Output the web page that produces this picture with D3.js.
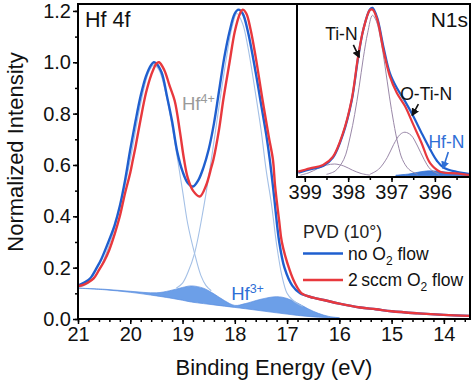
<!DOCTYPE html>
<html>
<head>
<meta charset="utf-8">
<script src="https://cdn.jsdelivr.net/npm/d3@7"></script>
<style>
  body { margin: 0; background: #fff; }
  svg { font-family: "Liberation Sans", Arial, sans-serif; }
</style>
</head>
<body>
<svg></svg>
<script>
// Hf 4f, no O2 flow (blue)
var blueEnergy = [21.0, 20.9, 20.8, 20.74, 20.64, 20.55, 20.4, 20.3, 20.2, 20.1, 20.0, 19.9, 19.8, 19.7, 19.6, 19.55, 19.5, 19.4, 19.3, 19.2, 19.1, 19.0, 18.9, 18.8, 18.7, 18.6, 18.5, 18.4, 18.3, 18.2, 18.1, 18.0, 17.93, 17.85, 17.75, 17.6, 17.5, 17.4, 17.33, 17.25, 17.15, 17.05, 16.9, 16.75, 16.5, 16.3, 16.0, 15.6, 15.3, 15.0, 14.5, 14.0, 13.5];
var blueIntensity = [0.13, 0.14, 0.152, 0.165, 0.2, 0.235, 0.31, 0.365, 0.44, 0.54, 0.66, 0.77, 0.87, 0.945, 0.99, 1.0, 0.995, 0.96, 0.87, 0.77, 0.65, 0.575, 0.53, 0.516, 0.54, 0.59, 0.66, 0.76, 0.89, 1.02, 1.12, 1.19, 1.205, 1.19, 1.12, 0.96, 0.84, 0.72, 0.62, 0.48, 0.3, 0.2, 0.13, 0.1, 0.083, 0.074, 0.06, 0.045, 0.038, 0.03, 0.022, 0.016, 0.012];

// Hf 4f, 2 sccm O2 flow (red)
var redEnergy = [21.0, 20.9, 20.8, 20.7, 20.6, 20.5, 20.4, 20.3, 20.2, 20.1, 20.0, 19.95, 19.9, 19.8, 19.7, 19.6, 19.5, 19.45, 19.35, 19.25, 19.15, 19.05, 18.97, 18.9, 18.8, 18.67, 18.55, 18.45, 18.41, 18.3, 18.22, 18.1, 18.0, 17.9, 17.85, 17.78, 17.7, 17.6, 17.47, 17.35, 17.27, 17.23, 17.15, 17.1, 16.95, 16.85, 16.72, 16.5, 16.3, 16.0, 15.6, 15.3, 15.0, 14.5, 14.0, 13.5];
var redIntensity = [0.128, 0.133, 0.143, 0.158, 0.19, 0.225, 0.27, 0.33, 0.4, 0.49, 0.57, 0.62, 0.67, 0.78, 0.88, 0.95, 0.995, 1.0, 0.97, 0.91, 0.85, 0.73, 0.62, 0.55, 0.5, 0.477, 0.52, 0.59, 0.62, 0.74, 0.854, 1.0, 1.12, 1.19, 1.205, 1.19, 1.13, 1.02, 0.854, 0.71, 0.62, 0.52, 0.38, 0.3, 0.19, 0.14, 0.1, 0.083, 0.074, 0.06, 0.045, 0.038, 0.03, 0.022, 0.016, 0.012];

// Hf4+ fitted components
var hf4aEnergy = [21.0, 20.8, 20.6, 20.4, 20.2, 20.0, 19.8, 19.65, 19.55, 19.45, 19.3, 19.15, 19.0, 18.9, 18.77, 18.65, 18.55, 18.45];
var hf4aIntensity = [0.122, 0.14, 0.19, 0.29, 0.43, 0.62, 0.84, 0.96, 0.99, 0.97, 0.86, 0.69, 0.5, 0.37, 0.256, 0.17, 0.13, 0.11];
var hf4bEnergy = [19.12, 19.0, 18.9, 18.77, 18.6, 18.45, 18.3, 18.15, 18.05, 17.96, 17.85, 17.75, 17.62, 17.5, 17.4, 17.3, 17.2, 17.1, 17.0, 16.9, 16.8, 16.7];
var hf4bIntensity = [0.12, 0.14, 0.18, 0.256, 0.43, 0.62, 0.83, 1.03, 1.14, 1.19, 1.15, 1.06, 0.9, 0.74, 0.58, 0.45, 0.29, 0.17, 0.1, 0.075, 0.06, 0.05];

// Hf3+ component (filled between background and component)
var hf3Energy = [21.0, 20.5, 20.0, 19.5, 19.25, 19.0, 18.83, 18.6, 18.4, 18.2, 18.0, 17.8, 17.5, 17.2, 17.0, 16.8, 16.6, 16.4, 16.2, 16.0];
var hf3Upper = [0.12, 0.116, 0.108, 0.102, 0.11, 0.123, 0.129, 0.12, 0.098, 0.072, 0.053, 0.06, 0.077, 0.087, 0.08, 0.062, 0.04, 0.022, 0.01, 0.005];
var hf3Lower = [0.12, 0.114, 0.104, 0.09, 0.082, 0.073, 0.066, 0.06, 0.055, 0.05, 0.045, 0.04, 0.032, 0.024, 0.019, 0.014, 0.01, 0.007, 0.005, 0.004];

// N 1s inset
var n1sBlueEnergy = [399.15, 398.88, 398.58, 398.35, 398.12, 397.92, 397.77, 397.65, 397.5, 397.44, 397.33, 397.19, 397.04, 396.88, 396.69, 396.5, 396.31, 396.11, 395.95, 395.8, 395.5, 395.19];
var n1sBlueIntensity = [0.02, 0.04, 0.06, 0.11, 0.25, 0.45, 0.71, 0.88, 1.0, 1.01, 0.95, 0.78, 0.62, 0.53, 0.45, 0.36, 0.26, 0.16, 0.09, 0.05, 0.025, 0.012];
var n1sRedEnergy = [399.15, 398.88, 398.58, 398.35, 398.12, 397.92, 397.77, 397.65, 397.5, 397.44, 397.33, 397.19, 397.04, 396.88, 396.69, 396.5, 396.31, 396.11, 395.88, 395.5, 395.19];
var n1sRedIntensity = [0.026, 0.046, 0.066, 0.116, 0.257, 0.458, 0.719, 0.88, 0.996, 1.0, 0.94, 0.76, 0.6, 0.5, 0.42, 0.31, 0.2, 0.077, 0.026, 0.016, 0.006];
var tinEnergy = [398.5, 398.3, 398.1, 397.95, 397.85, 397.75, 397.65, 397.55, 397.44, 397.35, 397.25, 397.15, 397.05, 396.95, 396.85, 396.75, 396.6, 396.4];
var tinIntensity = [0.01, 0.03, 0.1, 0.24, 0.37, 0.53, 0.71, 0.86, 0.965, 0.93, 0.82, 0.66, 0.48, 0.32, 0.19, 0.1, 0.04, 0.01];
var otinEnergy = [397.5, 397.3, 397.1, 396.95, 396.8, 396.69, 396.55, 396.4, 396.25, 396.1, 395.9];
var otinIntensity = [0.01, 0.04, 0.11, 0.19, 0.25, 0.263, 0.245, 0.18, 0.1, 0.04, 0.01];
var n3Energy = [399.1, 398.9, 398.7, 398.5, 398.31, 398.1, 397.9, 397.7, 397.5];
var n3Intensity = [0.005, 0.02, 0.045, 0.065, 0.072, 0.06, 0.035, 0.015, 0.005];
var hfnEnergy = [396.9, 396.6, 396.4, 396.2, 396.0, 395.8, 395.6, 395.4, 395.19];
var hfnIntensity = [0.005, 0.012, 0.022, 0.03, 0.03, 0.025, 0.02, 0.014, 0.01];

// ticks
var xTicksMain = [21, 20, 19, 18, 17, 16, 15, 14];
var yTicksMain = [0, 0.2, 0.4, 0.6, 0.8, 1.0, 1.2];
var xTicksInset = [399, 398, 397, 396];

var svgWidth = 474, svgHeight = 387;
var blue = "#1f5fcf", red = "#e8383d";

var svg = d3.select("svg")
    .attr("width", svgWidth)
    .attr("height", svgHeight);

var x = d3.scaleLinear().domain([21, 13.5]).range([78, 470]);
var y = d3.scaleLinear().domain([0, 1.227]).range([319, 4]);

var xIn = d3.scaleLinear().domain([399.18, 395.19]).range([297, 470]);
var yIn = d3.scaleLinear().domain([0, 1]).range([176, 9.5]);

var defs = svg.append("defs");
defs.append("clipPath").attr("id", "clipMain")
  .append("rect").attr("x", 78).attr("y", 4).attr("width", 392).attr("height", 315);
defs.append("clipPath").attr("id", "clipIn")
  .append("rect").attr("x", 297).attr("y", 4).attr("width", 173).attr("height", 173);
[["arrowBlack", "#111"], ["arrowBlue", "#2f6fd6"]].forEach(function (m) {
  defs.append("marker").attr("id", m[0])
    .attr("viewBox", "0 0 10 10").attr("refX", 8).attr("refY", 5)
    .attr("markerWidth", 5).attr("markerHeight", 5).attr("orient", "auto")
    .append("path").attr("d", "M0,0 L10,5 L0,10 z").attr("fill", m[1]);
});

function zip(xs, ys) {
  return xs.map(function (d, i) { return [d, ys[i]]; });
}

var line = d3.line()
  .x(function (d) { return x(d[0]); })
  .y(function (d) { return y(d[1]); })
  .curve(d3.curveCatmullRom.alpha(0.5));

var lineIn = d3.line()
  .x(function (d) { return xIn(d[0]); })
  .y(function (d) { return yIn(d[1]); })
  .curve(d3.curveCatmullRom.alpha(0.5));

// ---- main plot ----
var main = svg.append("g").attr("clip-path", "url(#clipMain)");

var hf3 = hf3Energy.map(function (d, i) { return [d, hf3Lower[i], hf3Upper[i]]; });
main.append("path")
  .datum(hf3)
  .attr("d", d3.area()
    .x(function (d) { return x(d[0]); })
    .y0(function (d) { return y(d[1]); })
    .y1(function (d) { return y(d[2]); })
    .curve(d3.curveCatmullRom.alpha(0.5)))
  .style("fill", "#6c9fe8")
  .style("stroke", "#5a8ee0")
  .style("stroke-width", 0.7);

[zip(hf4aEnergy, hf4aIntensity), zip(hf4bEnergy, hf4bIntensity)].forEach(function (c) {
  main.append("path").datum(c).attr("d", line)
    .style("fill", "none").style("stroke", "#a4c0e6").style("stroke-width", 1.1);
});

main.append("path").datum(zip(blueEnergy, blueIntensity)).attr("d", line)
  .style("fill", "none").style("stroke", blue).style("stroke-width", 2.4);
main.append("path").datum(zip(redEnergy, redIntensity)).attr("d", line)
  .style("fill", "none").style("stroke", red).style("stroke-width", 2.4);

// axes
var tickFont = "20px";
var xAxis = svg.append("g").attr("transform", "translate(0,319)")
  .call(d3.axisBottom(x).tickValues(xTicksMain).tickSize(5).tickPadding(3).tickFormat(d3.format("d")));
svg.append("g").attr("transform", "translate(0,319)")
  .call(d3.axisBottom(x).tickValues(d3.range(21, 13.45, -0.2)).tickSize(3).tickFormat(""));
var yAxis = svg.append("g").attr("transform", "translate(78,0)")
  .call(d3.axisLeft(y).tickValues(yTicksMain).tickSize(5).tickPadding(2).tickFormat(d3.format(".1f")));
svg.append("g").attr("transform", "translate(78,0)")
  .call(d3.axisLeft(y).tickValues(d3.range(0, 1.21, 0.1)).tickSize(3).tickFormat(""));
svg.selectAll(".domain").remove();
svg.selectAll(".tick line").style("stroke", "#000").style("stroke-width", 1.5);
svg.selectAll(".tick text").style("font-size", tickFont).style("fill", "#111")
  .style("font-family", "Liberation Sans, Arial, sans-serif");

svg.append("text")
  .attr("x", 274).attr("y", 375)
  .attr("text-anchor", "middle")
  .style("font-size", "22px").style("fill", "#111")
  .text("Binding Energy (eV)");
svg.append("text")
  .attr("transform", "translate(23,152) rotate(-90)")
  .attr("text-anchor", "middle")
  .style("font-size", "22px").style("fill", "#111")
  .text("Normalized Intensity");

svg.append("text").attr("x", 85).attr("y", 27)
  .style("font-size", "21.5px").style("fill", "#111").text("Hf 4f");

var t4 = svg.append("text").attr("x", x(19.01)).attr("y", y(0.815))
  .style("font-size", "18.5px").style("fill", "#9a9a9a");
t4.append("tspan").text("Hf");
t4.append("tspan").attr("dy", -7).style("font-size", "12.5px").text("4+");

var t3 = svg.append("text").attr("x", x(18.07)).attr("y", y(0.074))
  .style("font-size", "18.5px").style("fill", "#2f6fd6");
t3.append("tspan").text("Hf");
t3.append("tspan").attr("dy", -7).style("font-size", "12.5px").text("3+");

// legend
svg.append("text").attr("x", 303).attr("y", 238)
  .style("font-size", "17.5px").style("fill", "#222").text("PVD (10°)");
var legendItems = [[blue, 253.5, 260, "no O", " flow"], [red, 280, 286, "2\u2009sccm O", " flow"]];
legendItems.forEach(function (d) {
  svg.append("line").attr("x1", 303).attr("x2", 343).attr("y1", d[1]).attr("y2", d[1])
    .style("stroke", d[0]).style("stroke-width", 2.4);
  var t = svg.append("text").attr("x", 348).attr("y", d[2])
    .style("font-size", "17.5px").style("fill", "#111");
  t.append("tspan").text(d[3]);
  t.append("tspan").attr("dy", 5).style("font-size", "12px").text("2");
  t.append("tspan").attr("dy", -5).text(d[4]);
});

// ---- inset ----
svg.append("rect").attr("x", 297).attr("y", 4).attr("width", 173).attr("height", 173)
  .style("fill", "#fff");
var inset = svg.append("g").attr("clip-path", "url(#clipIn)");

var hfn = hfnEnergy.map(function (d, i) { return [d, hfnIntensity[i]]; });
inset.append("path").datum(hfn)
  .attr("d", d3.area()
    .x(function (d) { return xIn(d[0]); })
    .y0(yIn(0.002))
    .y1(function (d) { return yIn(d[1]); })
    .curve(d3.curveCatmullRom.alpha(0.5)))
  .style("fill", "#3f7ad8").style("stroke", "#2f6fd6").style("stroke-width", 0.7);

[zip(tinEnergy, tinIntensity), zip(otinEnergy, otinIntensity), zip(n3Energy, n3Intensity)].forEach(function (c) {
  inset.append("path").datum(c).attr("d", lineIn)
    .style("fill", "none").style("stroke", "#9a88a8").style("stroke-width", 1);
});

inset.append("path").datum(zip(n1sBlueEnergy, n1sBlueIntensity)).attr("d", lineIn)
  .style("fill", "none").style("stroke", blue).style("stroke-width", 2.2);
inset.append("path").datum(zip(n1sRedEnergy, n1sRedIntensity)).attr("d", lineIn)
  .style("fill", "none").style("stroke", red).style("stroke-width", 2.2);

var inAxis = svg.append("g").attr("transform", "translate(0,177)")
  .call(d3.axisBottom(xIn).tickValues(xTicksInset).tickSize(5).tickPadding(3).tickFormat(d3.format("d")));
svg.append("g").attr("transform", "translate(0,177)")
  .call(d3.axisBottom(xIn).tickValues(d3.range(399, 395.1, -0.5)).tickSize(3).tickFormat(""));
svg.selectAll(".domain").remove();
svg.selectAll(".tick line").style("stroke", "#000").style("stroke-width", 1.5);
svg.selectAll(".tick text").style("font-size", tickFont).style("fill", "#111")
  .style("font-family", "Liberation Sans, Arial, sans-serif");

svg.append("line").attr("x1", 297).attr("x2", 297).attr("y1", 4).attr("y2", 178)
  .style("stroke", "#000").style("stroke-width", 2);
svg.append("line").attr("x1", 296).attr("x2", 470).attr("y1", 177).attr("y2", 177)
  .style("stroke", "#000").style("stroke-width", 2);

svg.append("text").attr("x", 468).attr("y", 27).attr("text-anchor", "end")
  .style("font-size", "21px").style("fill", "#111").text("N1s");

// inset annotations: [label, color, text eV, text v, arrow from eV, v, arrow to eV, v]
var notes = [
  ["Ti-N", "#111", 398.53, 0.817, 397.88, 0.787, 397.75, 0.715, "arrowBlack"],
  ["O-Ti-N", "#111", 396.80, 0.456, 396.38, 0.432, 396.52, 0.366, "arrowBlack"],
  ["Hf-N", "#2f6fd6", 396.15, 0.166, 395.69, 0.144, 395.81, 0.048, "arrowBlue"]
];
notes.forEach(function (n) {
  svg.append("text").attr("x", xIn(n[2])).attr("y", yIn(n[3]))
    .style("font-size", "17.5px").style("fill", n[1]).text(n[0]);
  svg.append("line")
    .attr("x1", xIn(n[4])).attr("y1", yIn(n[5]))
    .attr("x2", xIn(n[6])).attr("y2", yIn(n[7]))
    .style("stroke", n[1]).style("stroke-width", 1.6)
    .attr("marker-end", "url(#" + n[8] + ")");
});

// frame
svg.append("rect").attr("x", 78).attr("y", 4).attr("width", 392).attr("height", 315)
  .style("fill", "none").style("stroke", "#000").style("stroke-width", 2);
</script>
</body>
</html>
